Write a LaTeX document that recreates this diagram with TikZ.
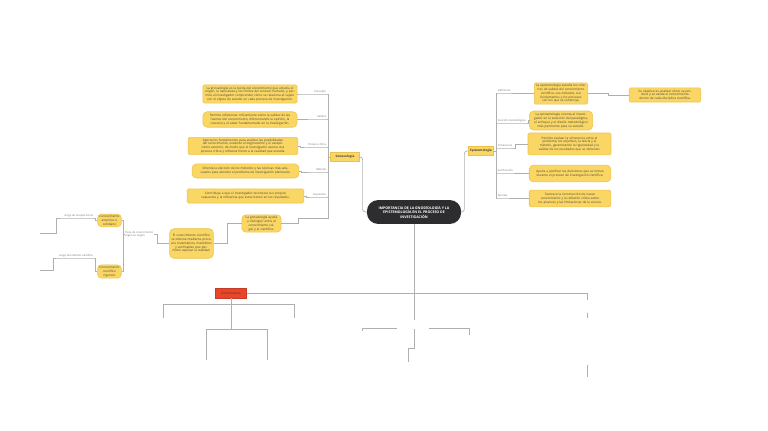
\documentclass[tikz,border=0pt]{standalone}
\usepackage{fontspec}
\setmainfont{Open Sans}
\usetikzlibrary{positioning,calc}
\definecolor{amarillo}{RGB}{250,214,100}
\definecolor{amarilloborde}{RGB}{236,194,76}
\definecolor{oscuro}{RGB}{45,45,48}
\definecolor{rojo}{RGB}{233,69,43}
\definecolor{gris}{RGB}{175,175,175}

\begin{document}
\begin{tikzpicture}[x=0.025cm, y=-0.025cm,
        caja/.style={draw=amarilloborde, fill=amarillo, rounded corners=1pt, align=center, inner sep=1pt, font=\fontsize{2.2}{2.7}\selectfont, text=black!75},
        cajar/.style={caja, rounded corners=3pt},
        rama/.style={draw=amarilloborde, fill=amarillo, inner sep=0.5pt, minimum height=6.4pt, font=\fontsize{2.2}{2.7}\selectfont\bfseries, text=black!75},
        etiqueta/.style={font=\fontsize{1.9}{2.3}\selectfont, text=black!55, inner sep=0.5pt},
        conector/.style={draw=gris, line width=0.5pt}
    ]
        \useasboundingbox (0,0) rectangle (768,431);

        \node[fill=oscuro, text=white, rounded corners=8pt, minimum width=67pt, minimum height=17pt, inner sep=1pt, align=center, font=\fontsize{2.5}{3.2}\selectfont\bfseries] (central) at (414,212) {IMPORTANCIA DE LA GNOSEOLOGÍA Y LA\\EPISTEMOLOGÍA EN EL PROCESO DE\\INVESTIGACIÓN};

        \node[rama, minimum width=21pt] (gnos) at (345,157) {Gnoseología};
        \node[rama, minimum width=18pt] (epis) at (481,151) {Epistemología};
        \node[fill=rojo, draw=rojo!85!black, minimum width=22pt, minimum height=7pt, inner sep=0.5pt, font=\fontsize{2.2}{2.7}\selectfont, text=black!80] (concl) at (231,293) {Conclusiones};

        % gnoseologia
        \node[caja, text width=65pt, minimum height=13pt] (g1) at (250,94) {La gnoseología es la teoría del conocimiento que estudia el origen, la naturaleza y los límites del conocer humano, y permite al investigador comprender cómo se relaciona el sujeto con el objeto de estudio en cada proceso de investigación.};
        \node[cajar, text width=65pt, minimum height=11pt] (g2) at (250,119.5) {Permite reflexionar críticamente sobre la validez de las fuentes del conocimiento, diferenciando la opinión, la creencia y el saber fundamentado en la investigación.};
        \node[caja, text width=76pt, minimum height=10pt] (g3) at (243,146) {Aporta los fundamentos para analizar las posibilidades del conocimiento, evitando el dogmatismo y el escepticismo extremo, de modo que el investigador asuma una postura crítica y reflexiva frente a la realidad que estudia.};
        \node[cajar, text width=74pt, minimum height=10pt] (g4) at (245.5,171) {Orienta la elección de los métodos y las técnicas más adecuados para abordar el problema de investigación planteado.};
        \node[caja, text width=81pt, minimum height=10pt] (g5) at (245.5,196) {Contribuye a que el investigador reconozca sus propios supuestos y la influencia que estos tienen en los resultados.};
        \node[cajar, text width=26pt, minimum height=12pt] (g6) at (261.5,223.5) {La gnoseología ayuda a distinguir entre el conocimiento vulgar y el científico.};
        \node[cajar, text width=29pt, minimum height=21pt] (g7) at (191.5,243.5) {El conocimiento científico se obtiene mediante procesos sistemáticos, metódicos y verificables que permiten explicar la realidad.};
        \node[cajar, text width=15pt, minimum height=8pt] (g8) at (109.5,220.5) {Conocimiento empírico o cotidiano};
        \node[cajar, text width=15pt, minimum height=9pt] (g9) at (109.5,271.5) {Conocimiento científico riguroso};

        \node[etiqueta, anchor=south east] (eg1) at (327,94) {Concepto};
        \node[etiqueta, anchor=south east] (eg2) at (327,119) {Validez};
        \node[etiqueta, anchor=south east] (eg3) at (327,147) {Postura crítica};
        \node[etiqueta, anchor=south east] (eg4) at (327,172) {Método};
        \node[etiqueta, anchor=south east] (eg5) at (327,197) {Supuestos};
        \node[etiqueta, anchor=west, align=left] (tipos) at (124,234) {Tipos de conocimiento\\según su origen};
        \node[etiqueta, anchor=south east] (eh1) at (94,218) {surge de la experiencia};
        \node[etiqueta, anchor=south east] (eh2) at (94,258) {surge del método científico};

        % epistemologia
        \node[caja, text width=36pt, minimum height=13.5pt] (e1) at (561,93.5) {La epistemología estudia los criterios de validez del conocimiento científico, sus métodos, sus fundamentos y los procesos con los que se construye.};
        \node[caja, text width=49pt, minimum height=10pt] (e1b) at (665,95) {Su objetivo es analizar cómo se produce y se valida el conocimiento dentro de cada disciplina científica.};
        \node[cajar, text width=43pt, minimum height=13.5pt] (e2) at (561,120.5) {La epistemología orienta al investigador en la selección del paradigma, el enfoque y el diseño metodológico más pertinente para su estudio.};
        \node[caja, text width=57pt, minimum height=15.6pt] (e3) at (569.5,144) {Permite evaluar la coherencia entre el problema, los objetivos, la teoría y el método, garantizando la rigurosidad y la validez de los resultados que se obtienen.};
        \node[cajar, text width=56pt, minimum height=12pt] (e4) at (570,173.5) {Ayuda a justificar las decisiones que se toman durante el proceso de investigación científica.};
        \node[caja, text width=56pt, minimum height=12pt] (e5) at (570,198.5) {Favorece la construcción de nuevo conocimiento y la reflexión crítica sobre los alcances y las limitaciones de la ciencia.};

        \node[etiqueta, anchor=south west] (ee1) at (497,93) {Definición};
        \node[etiqueta, anchor=south west] (ee2) at (497,123) {Función metodológica};
        \node[etiqueta, anchor=south west] (ee3) at (497,148) {Coherencia};
        \node[etiqueta, anchor=south west] (ee4) at (497,173) {Justificación};
        \node[etiqueta, anchor=south west] (ee5) at (497,198) {Aportes};

        \coordinate (h1) at (40,233);
        \coordinate (h2) at (40,270);
        \coordinate (b0) at (414,320);
        \coordinate (d1) at (587,293);
        \coordinate (d2) at (587,300);
        \coordinate (d3) at (587,313);
        \coordinate (d4) at (587,318);
        \coordinate (d5) at (587,365);
        \coordinate (d6) at (587,377);
        \coordinate (m1) at (362,328);
        \coordinate (m1b) at (362,331);
        \coordinate (m2) at (397,328);
        \coordinate (m3) at (429,328);
        \coordinate (m4) at (469,328);
        \coordinate (m5) at (469,335);
        \coordinate (n1) at (414,329);
        \coordinate (n2) at (414,348);
        \coordinate (n3) at (408,348);
        \coordinate (n4) at (408,362);
        \coordinate (k1) at (163,304);
        \coordinate (k1b) at (163,318);
        \coordinate (k2) at (294,304);
        \coordinate (k2b) at (294,318);
        \coordinate (k3) at (231,329);
        \coordinate (k4) at (206,329);
        \coordinate (k4b) at (206,360);
        \coordinate (k5) at (267,329);
        \coordinate (k5b) at (267,360);

        \draw[conector, rounded corners=2pt] (central.west) -- ++(-4,0) |- (gnos.east);
        \draw[conector, rounded corners=2pt] (central.east) -- ++(3,0) |- (epis.west);

        \foreach \n in {1,...,5}
            \draw[conector] (g\n.east) -- ++(2,0) |- (eg\n.south west) -- (eg\n.south east) -- ++(1,0) |- (gnos.west);
        \draw[conector] (g6.east) -- ++(17,0) -- ++(0,-5) -- ++(30,0) |- (gnos.west);
        \draw[conector] (g7.east) -- ++(14,0) |- (g6.west);
        \draw[conector] (tipos.east) -- ++(3,0) |- (g7.west);
        \draw[conector] (g8.east) -- ++(2,0) |- (tipos.west);
        \draw[conector] (g9.east) -- ++(2,0) |- (tipos.west);
        \draw[conector] (g8.west) -- ++(-2,0) |- (eh1.south east) -- (eh1.south west) -- ++(-7,0) |- (h1);
        \draw[conector] (g9.west) -- ++(-2,0) |- (eh2.south east) -- (eh2.south west) -- ++(-5,0) |- (h2);

        \foreach \n in {1,...,5}
            \draw[conector] (epis.east) -- ++(2,0) |- (ee\n.south west) -- (ee\n.south east) -- ++(2,0) |- (e\n.west);
        \draw[conector] (e1.east) -- ++(20,0) |- (e1b.west);

        \draw[conector] (central.south) -- (b0);
        \draw[conector] (concl.east) -- (d1) -- (d2);
        \draw[conector] (d3) -- (d4);
        \draw[conector] (d5) -- (d6);
        \draw[conector] (m1b) -- (m1) -- (m2);
        \draw[conector] (m3) -- (m4) -- (m5);
        \draw[conector] (n1) -- (n2) -- (n3) -- (n4);
        \draw[conector] (concl.south) -- (k3);
        \draw[conector] (k1b) -- (k1) -- (k2) -- (k2b);
        \draw[conector] (k4b) -- (k4) -- (k5) -- (k5b);

    \end{tikzpicture}
\end{document}
